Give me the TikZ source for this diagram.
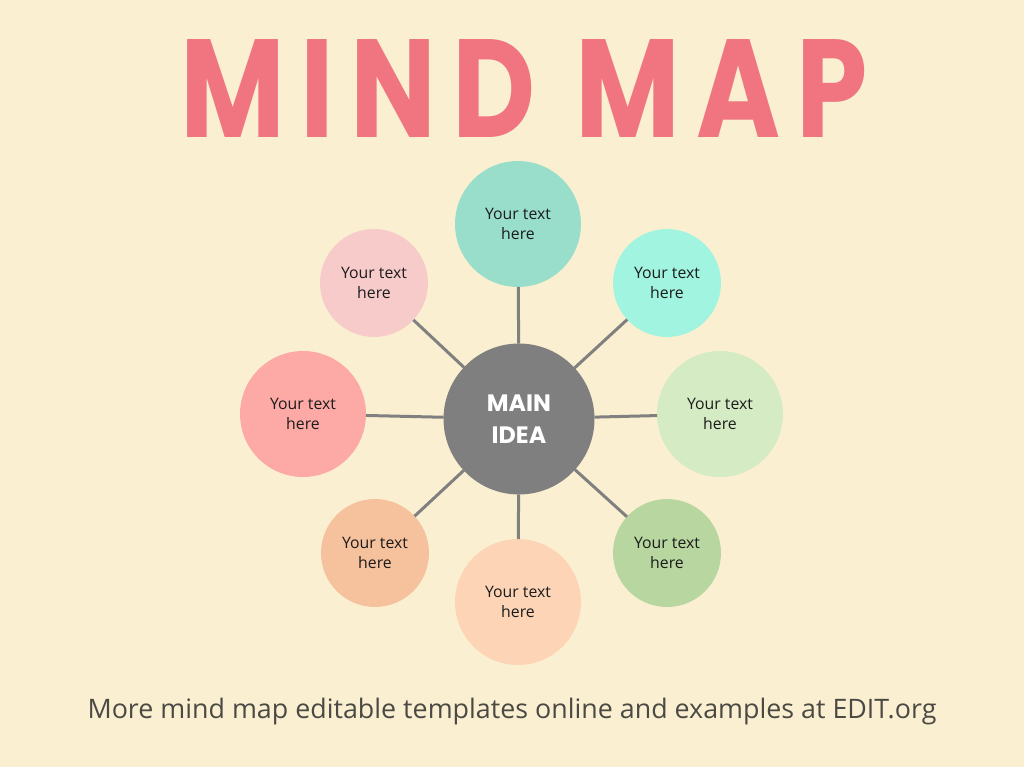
\documentclass[tikz,border=0pt]{standalone}
\usepackage{fontspec}
\usepackage{graphicx}
\setmainfont{Open Sans}
\newfontfamily\titlefont{Poppins}[LetterSpace=14]
\newfontfamily\ideafont{Poppins}
\usetikzlibrary{positioning}

\definecolor{paper}{HTML}{FAF0D1}
\definecolor{titlepink}{HTML}{F07580}
\definecolor{hubgray}{HTML}{7F7F7F}
\definecolor{linkgray}{HTML}{808080}
\definecolor{inkdark}{HTML}{1C1C1C}
\definecolor{footgray}{HTML}{4B4944}
\definecolor{teal}{HTML}{98DECB}
\definecolor{mint}{HTML}{A1F4DF}
\definecolor{sage}{HTML}{D5EBC3}
\definecolor{leaf}{HTML}{B8D6A0}
\definecolor{peach}{HTML}{FDD4B6}
\definecolor{apricot}{HTML}{F6C19D}
\definecolor{salmon}{HTML}{FDA9A6}
\definecolor{blush}{HTML}{F8CBCB}

\begin{document}
\begin{tikzpicture}[x=0.02cm,y=-0.02cm,
    bubble/.style={circle,draw=none,outer sep=0pt,inner sep=0pt,align=center,
      text=inkdark,font=\fontsize{9}{11.4}\selectfont},
    bigbubble/.style={bubble,minimum size=2.52cm},
    smallbubble/.style={bubble,minimum size=2.16cm},
    link/.style={draw=linkgray,line width=0.06cm}]

      \fill[paper] (0,0) rectangle (1024,767);
      \useasboundingbox (0,0) rectangle (1024,767);

      % title
      \node[text=titlepink,inner sep=0pt] (title) at (524,89)
        {\resizebox{13.76cm}{1.96cm}{\titlefont\bfseries MIND MAP}};

      % hub
      \node[circle,fill=hubgray,minimum size=3.02cm,inner sep=0pt,outer sep=0pt,
        text=white,align=center,font=\ideafont\bfseries\fontsize{13.5}{18.2}\selectfont]
        (main) at (519,419) {MAIN\\IDEA};

      % branches
      \node[bigbubble,fill=teal]      (top)    at (518,224) {Your text\\here};
      \node[smallbubble,fill=mint]    (topr)   at (667,283) {Your text\\here};
      \node[bigbubble,fill=sage]      (right)  at (720,414) {Your text\\here};
      \node[smallbubble,fill=leaf]    (botr)   at (667,553) {Your text\\here};
      \node[bigbubble,fill=peach]     (bot)    at (518,602) {Your text\\here};
      \node[smallbubble,fill=apricot] (botl)   at (375,553) {Your text\\here};
      \node[bigbubble,fill=salmon]    (left)   at (303,414) {Your text\\here};
      \node[smallbubble,fill=blush]   (topl)   at (374,283) {Your text\\here};

      \draw[link] (main) -- (top);
      \draw[link] (main) -- (topr);
      \draw[link] (main) -- (right);
      \draw[link] (main) -- (botr);
      \draw[link] (main) -- (bot);
      \draw[link] (main) -- (botl);
      \draw[link] (main) -- (left);
      \draw[link] (main) -- (topl);

      % footer
      \node[text=footgray,inner sep=0pt] (foot) at (512,712)
        {\resizebox{16.98cm}{!}{\fontsize{15}{18}\selectfont More mind map editable templates online and examples at EDIT.org}};

\end{tikzpicture}
\end{document}
